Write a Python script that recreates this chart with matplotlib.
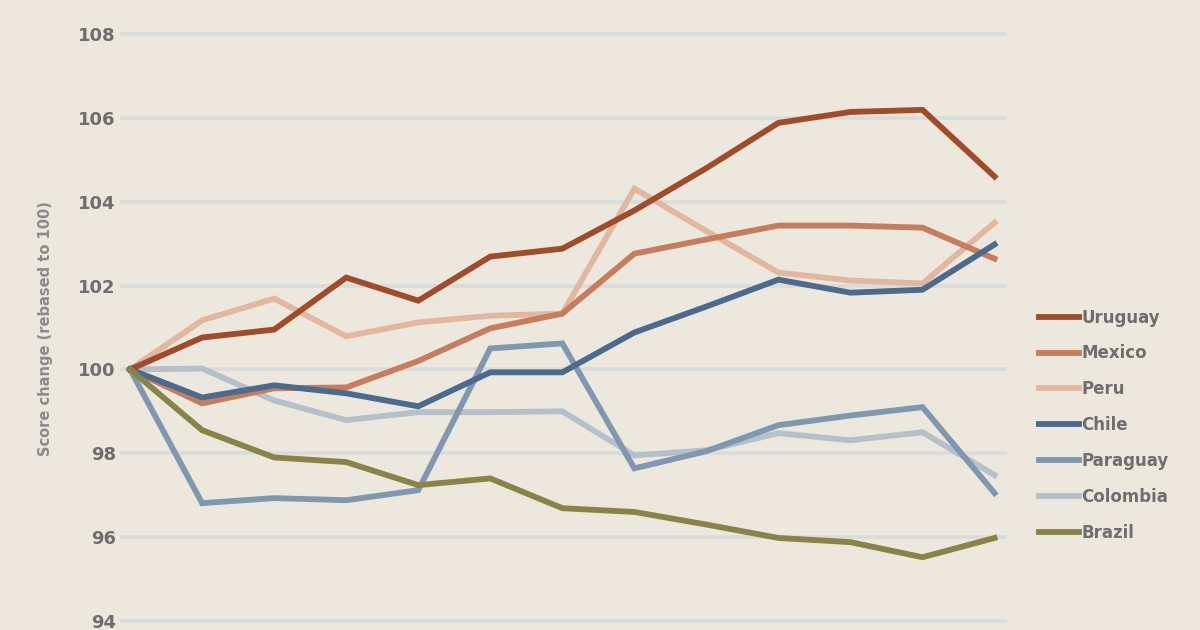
import numpy as np
import matplotlib.pyplot as plt

# 점수 변화 (100 기준) - 그림에서 읽은 값
x = np.arange(13)
uruguay = [100, 100.76, 100.95, 102.19, 101.64, 102.69, 102.88, 103.79, 104.8, 105.88, 106.14, 106.19, 104.6]
mexico = [100, 99.19, 99.55, 99.57, 100.2, 100.98, 101.33, 102.76, 103.1, 103.43, 103.43, 103.38, 102.64]
peru = [100, 101.17, 101.69, 100.79, 101.12, 101.28, 101.33, 104.31, 103.3, 102.31, 102.12, 102.05, 103.5]
chile = [100, 99.33, 99.62, 99.43, 99.12, 99.93, 99.93, 100.88, 101.5, 102.14, 101.83, 101.9, 102.98]
paraguay = [100, 96.81, 96.93, 96.88, 97.12, 100.5, 100.62, 97.64, 98.05, 98.67, 98.9, 99.1, 97.05]
colombia = [100, 100.02, 99.26, 98.79, 98.98, 98.98, 99.0, 97.95, 98.07, 98.48, 98.31, 98.5, 97.48]
brazil = [100, 98.55, 97.9, 97.79, 97.24, 97.4, 96.69, 96.6, 96.3, 95.98, 95.88, 95.52, 95.98]

names = ['Uruguay', 'Mexico', 'Peru', 'Chile', 'Paraguay', 'Colombia', 'Brazil']
series = [uruguay, mexico, peru, chile, paraguay, colombia, brazil]
colors = ['#a14b2b', '#c77c5e', '#e1b7a0', '#4b6a8d', '#8097b0', '#b5c0cb', '#888447']
yticks = [94, 96, 98, 100, 102, 104, 106, 108]

bg = '#ede8dd'
txt = '#6e6e6e'

fig = plt.figure(figsize=(12, 6.3), dpi=100)
fig.patch.set_facecolor(bg)
ax = fig.add_axes([0.1, 0.0, 0.739, 1.0])
ax.set_facecolor(bg)

for y in yticks:
    ax.axhline(y, color='#d9dcda', lw=2.6, zorder=1)

# 그리는 순서 (위에 올라오는 선 나중에)
order = [5, 2, 1, 4, 3, 0, 6]
lines = {}
for i in order:
    ln, = ax.plot(x, series[i], color=colors[i], lw=4.2, zorder=3,
                  solid_joinstyle='miter', label=names[i])
    lines[i] = ln

ax.set_xlim(-0.14, 12.17)
ax.set_ylim(93.785, 108.81)
ax.set_xticks([])
ax.set_yticks(yticks)
ax.set_yticklabels([str(t) for t in yticks], fontsize=13, fontweight='bold', color=txt)
ax.tick_params(axis='y', length=0, pad=3)
for s in ax.spines.values():
    s.set_visible(False)

fig.text(0.038, 0.479, 'Score change (rebased to 100)', rotation=90, ha='center', va='center',
         fontsize=10.5, fontweight='bold', color='#8a8a8a')

leg = ax.legend([lines[i] for i in range(7)], names, loc='upper left',
                bbox_to_anchor=(0.853, 0.534), bbox_transform=fig.transFigure,
                frameon=False, handlelength=2.45, handletextpad=0.1, labelspacing=1.07,
                prop={'size': 12, 'weight': 'bold'})
for t in leg.get_texts():
    t.set_color(txt)

fig.savefig('out.png', dpi=100, facecolor=bg)
